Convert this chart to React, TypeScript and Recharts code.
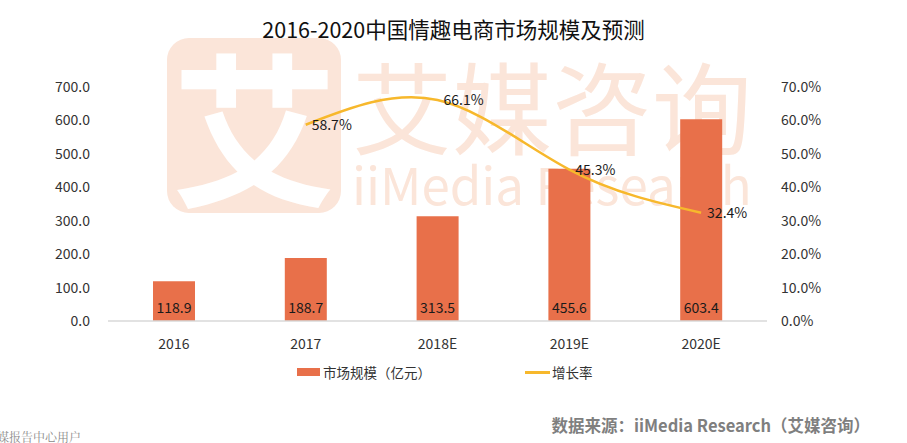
import React from 'react';
import {
  ComposedChart,
  Bar,
  Line,
  XAxis,
  YAxis,
  LabelList,
} from 'recharts';

const years = ['2016', '2017', '2018E', '2019E', '2020E'];
const marketSize = [118.9, 188.7, 313.5, 455.6, 603.4];
const growthRate = [null, 58.7, 66.1, 45.3, 32.4];
const leftTicks = [0, 100, 200, 300, 400, 500, 600, 700];
const rightTicks = [0, 10, 20, 30, 40, 50, 60, 70];

const data = years.map((year, i) => ({
  year,
  size: marketSize[i],
  rate: growthRate[i],
}));

const BAR_COLOR = '#E8704A';
const LINE_COLOR = '#F7B82C';
const FONT = '"Noto Sans CJK SC", "Noto Sans", sans-serif';
const WM = '#FBE5D9';

const App = () => {
  return (
    <div
      style={{
        position: 'absolute',
        left: 0,
        top: 0,
        width: 907,
        height: 443,
        background: '#fff',
        fontFamily: FONT,
        overflow: 'hidden',
      }}
    >
      {/* watermark */}
      <div
        style={{
          position: 'absolute',
          left: 167,
          top: 38,
          width: 174,
          height: 175,
          borderRadius: 22,
          background: WM,
        }}
      />
      <div
        style={{
          position: 'absolute',
          left: 172,
          top: 28,
          fontSize: 165,
          lineHeight: '190px',
          fontWeight: 700,
          color: '#fff',
        }}
      >
        艾
      </div>
      <div
        style={{
          position: 'absolute',
          left: 352,
          top: 42,
          fontSize: 100,
          lineHeight: '124px',
          color: WM,
        }}
      >
        艾媒咨询
      </div>
      <div
        style={{
          position: 'absolute',
          left: 352,
          top: 150,
          fontSize: 51,
          lineHeight: '66px',
          color: WM,
        }}
      >
        iiMedia Research
      </div>

      <div
        style={{
          position: 'absolute',
          left: 0,
          top: 13,
          width: 907,
          textAlign: 'center',
          fontSize: 21.5,
          fontWeight: 400,
          color: '#111',
        }}
      >
        2016-2020中国情趣电商市场规模及预测
      </div>

      <div style={{ position: 'absolute', left: 0, top: 0 }}>
        <ComposedChart
          width={907}
          height={370}
          data={data}
          margin={{ top: 87, right: 0, bottom: 0, left: 0 }}
          style={{ fontFamily: FONT }}
        >
          <XAxis
            dataKey="year"
            axisLine={{ stroke: '#D9D9D9', strokeWidth: 1.5 }}
            tickLine={false}
            tick={{ fill: '#333', fontSize: 14 }}
            tickMargin={12}
            height={49}
          />
          <YAxis
            yAxisId="left"
            domain={[0, 700]}
            ticks={leftTicks}
            tickFormatter={(v: number) => v.toFixed(1)}
            axisLine={false}
            tickLine={false}
            tickSize={0}
            tickMargin={18}
            width={108}
            tick={{ fill: '#333', fontSize: 14 }}
          />
          <YAxis
            yAxisId="right"
            orientation="right"
            domain={[0, 70]}
            ticks={rightTicks}
            tickFormatter={(v: number) => v.toFixed(1) + '%'}
            axisLine={false}
            tickLine={false}
            tickSize={0}
            tickMargin={14}
            width={140}
            tick={{ fill: '#333', fontSize: 14 }}
          />
          <Bar
            yAxisId="left"
            dataKey="size"
            fill={BAR_COLOR}
            barSize={42}
            isAnimationActive={false}
          >
            <LabelList
              dataKey="size"
              position="insideBottom"
              offset={8}
              formatter={(v: number) => v.toFixed(1)}
              style={{ fill: '#1a1a1a', fontSize: 14 }}
            />
          </Bar>
          <Line
            yAxisId="right"
            type="natural"
            dataKey="rate"
            stroke={LINE_COLOR}
            strokeWidth={2.5}
            dot={false}
            activeDot={false}
            connectNulls={false}
            isAnimationActive={false}
          >
            <LabelList
              dataKey="rate"
              position="right"
              offset={6}
              formatter={(v: number | null) => (v == null ? '' : v.toFixed(1) + '%')}
              style={{ fill: '#1a1a1a', fontSize: 14 }}
            />
          </Line>
        </ComposedChart>
      </div>

      {/* legend */}
      <div
        style={{
          position: 'absolute',
          left: 297,
          top: 362,
          display: 'flex',
          alignItems: 'center',
          fontSize: 13.5,
          color: '#333',
        }}
      >
        <span style={{ display: 'inline-block', width: 23, height: 8, background: BAR_COLOR, marginRight: 3 }} />
        <span>市场规模（亿元）</span>
        <span style={{ display: 'inline-block', width: 25, height: 3, background: LINE_COLOR, marginLeft: 94, marginRight: 2 }} />
        <span>增长率</span>
      </div>

      <div
        style={{
          position: 'absolute',
          right: 37,
          top: 413,
          fontSize: 16.5,
          fontWeight: 700,
          color: '#7F7F7F',
        }}
      >
        数据来源：iiMedia Research（艾媒咨询）
      </div>
      <div
        style={{
          position: 'absolute',
          left: -3,
          top: 428,
          fontSize: 12,
          color: '#8a8a8a',
          fontFamily: '"Noto Serif CJK SC", "Noto Sans CJK SC", serif',
        }}
      >
        媒报告中心用户
      </div>
    </div>
  );
};

export default App;
